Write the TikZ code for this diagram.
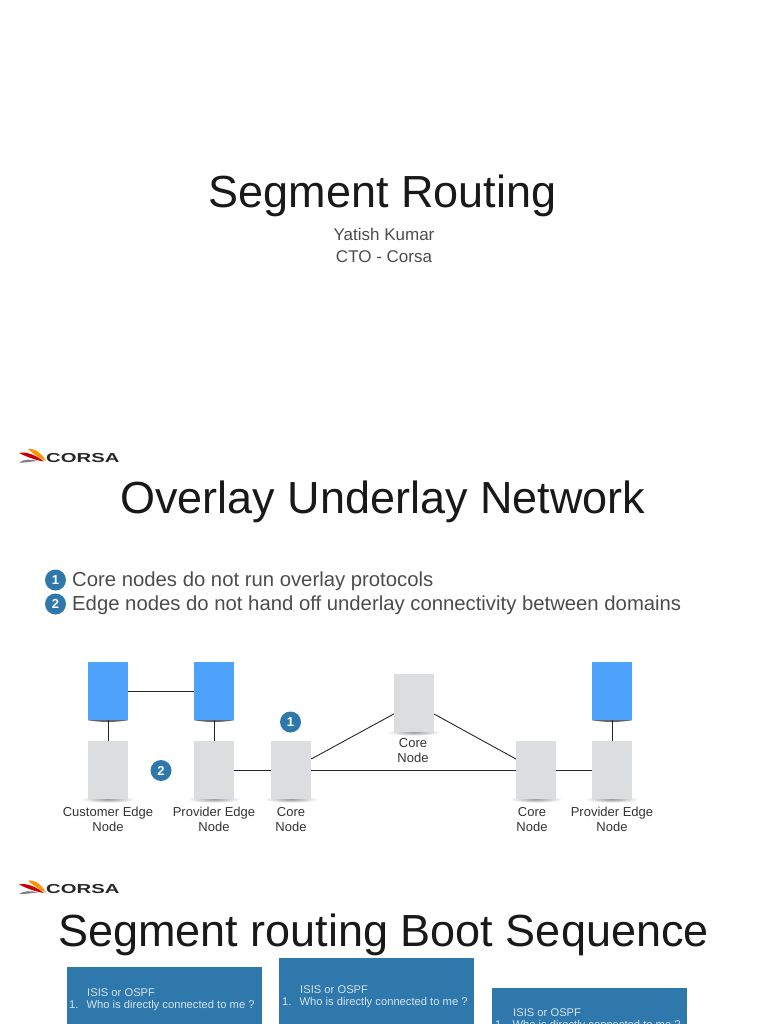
\documentclass[tikz,border=0pt]{standalone}
\usepackage{fontspec}
\setmainfont{Liberation Sans}
\usetikzlibrary{backgrounds}
\definecolor{badgeblue}{HTML}{2E78AB}
\definecolor{hostblue}{HTML}{4DA2FB}
\definecolor{nodegray}{HTML}{DCDDDF}
\definecolor{labelgray}{HTML}{333333}
\definecolor{stepfg}{HTML}{D5E3EE}
\tikzset{
  bigtitle/.style={font=\fontsize{45}{50}\selectfont,text=black!90,inner sep=0pt},
  subtitle/.style={font=\fontsize{17}{21.5}\selectfont,text=black!70,align=center,inner sep=0pt},
  bullet/.style={font=\fontsize{20.3}{24}\selectfont,text=black!70,anchor=west,inner sep=0pt},
  badge/.style={circle,fill=badgeblue,text=white,minimum size=21pt,inner sep=0pt,font=\fontsize{13}{13}\selectfont\bfseries},
  hostbox/.style={fill=hostblue,minimum width=40pt,minimum height=58pt,inner sep=0pt},
  corebox/.style={fill=nodegray,minimum width=40pt,minimum height=58pt,inner sep=0pt},
  nodelabel/.style={font=\fontsize{13}{15}\selectfont,text=labelgray,align=center,inner sep=0pt},
  link/.style={draw=black!85,line width=0.9pt},
  stepbox/.style={fill=badgeblue,anchor=north west,minimum width=195pt,minimum height=90pt,inner sep=0pt},
  steptext/.style={font=\fontsize{11.2}{13}\selectfont,text=stepfg,anchor=west,inner sep=0pt},
}
\begin{document}
\begin{tikzpicture}[x=1pt,y=-1pt]
\useasboundingbox (0,0) rectangle (768,1024);

% first slide
\node[bigtitle] (title) at (382.5,195.5) {Segment Routing};
\node[subtitle] (author) at (384,245.5) {Yatish Kumar\\CTO - Corsa};

% logos
\foreach \dy/\logoname in {0/logoa,431.5/logob}{
  \begin{scope}[shift={(0,\dy)}]
    \fill[orange!85!yellow] (28,449) .. controls (36,448) and (43,455) .. (46,461) .. controls (41,459) and (33,454) .. (28,449);
    \fill[red!80!black] (19,453) .. controls (27,451) and (37,456) .. (44,461.5) .. controls (35,460) and (27,457) .. (19,453);
    \fill[gray] (19,462.5) .. controls (24,459) and (31,459) .. (38,461) .. controls (30,461.5) and (25,463) .. (19,462.5);
    \node[inner sep=0pt,anchor=west,font=\fontsize{13}{13}\selectfont\bfseries,text=black!85] (\logoname) at (46,458) {\scalebox{1.56}[1]{CORSA}};
  \end{scope}
}

% second slide
\node[bigtitle] (overlay) at (383,502) {Overlay Underlay Network};
\node[badge] (bulleta) at (55.5,580) {1};
\node[badge] (bulletb) at (55.5,604) {2};
\node[bullet] (linea) at (72,581) {Core nodes do not run overlay protocols};
\node[bullet] (lineb) at (72,605) {Edge nodes do not hand off underlay connectivity between domains};

\node[hostbox] (hostce) at (108,691) {};
\node[hostbox] (hostpe) at (214,691) {};
\node[hostbox] (hostfar) at (612,691) {};
\node[corebox] (ce) at (108,770) {};
\node[corebox] (pe) at (214,770) {};
\node[corebox] (corea) at (291,770) {};
\node[corebox] (coretop) at (414,703) {};
\node[corebox] (coreb) at (536,770) {};
\node[corebox] (pefar) at (612,770) {};

\begin{scope}[on background layer]
  \foreach \n in {hostce,hostpe,hostfar}
    \fill[black!60] (\n.south west) to[bend right=9] (\n.south east) -- cycle;
  \foreach \n in {ce,pe,corea,coretop,coreb,pefar}
    \shade[inner color=black!40,outer color=white] (\n.south) ellipse (27 and 3.5);
\end{scope}

\draw[link] (hostce) -- (hostpe);
\draw[link] (hostce) -- (ce);
\draw[link] (hostpe) -- (pe);
\draw[link] (hostfar) -- (pefar);
\draw[link] (pe) -- (corea);
\draw[link] (corea) -- (coreb);
\draw[link] (corea) -- (coretop);
\draw[link] (coretop) -- (coreb);
\draw[link] (coreb) -- (pefar);

\node[badge] (badgea) at (290.5,722) {1};
\node[badge] (badgeb) at (161,770.5) {2};

\node[nodelabel] (labelce) at (108,819.5) {Customer Edge\\Node};
\node[nodelabel] (labelpe) at (214,819.5) {Provider Edge\\Node};
\node[nodelabel] (labelcorea) at (291,819.5) {Core\\Node};
\node[nodelabel] (labeltop) at (413,750.5) {Core\\Node};
\node[nodelabel] (labelcoreb) at (532,819.5) {Core\\Node};
\node[nodelabel] (labelpefar) at (612,819.5) {Provider Edge\\Node};

% third slide
\node[bigtitle] (bootseq) at (383.5,935) {Segment routing Boot Sequence};
\node[stepbox] (stepa) at (67,967) {};
\node[stepbox] (stepb) at (279,958) {};
\node[stepbox] (stepc) at (492,988) {};
\node[steptext] (isisa) at (87,992.5) {ISIS or OSPF};
\node[steptext] (whoa) at (69,1005.5) {1.\hspace{8pt}Who is directly connected to me ?};
\node[steptext] (isisb) at (300,989.5) {ISIS or OSPF};
\node[steptext] (whob) at (282,1003) {1.\hspace{8pt}Who is directly connected to me ?};
\node[steptext] (isisc) at (513,1012.5) {ISIS or OSPF};
\node[steptext] (whoc) at (495,1026) {1.\hspace{8pt}Who is directly connected to me ?};

\end{tikzpicture}
\end{document}
